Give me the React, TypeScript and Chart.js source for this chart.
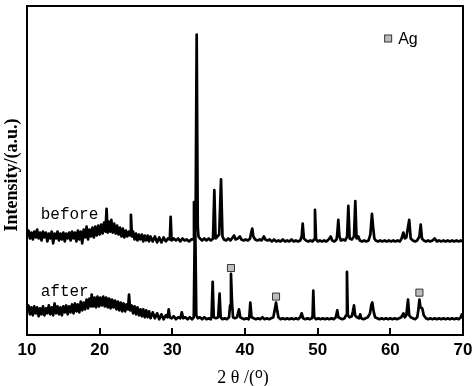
import React, { useEffect, useRef } from 'react';
import { Chart, registerables } from 'chart.js';

Chart.register(...registerables);

// 2θ tick labels
const xTickValues: number[] = [10, 20, 30, 40, 50, 60, 70];

// XRD pattern "before" : [2θ (deg), intensity (a.u.)]
const beforePattern: [number, number][] = [
  [10.0,101],[10.2,106],[10.4,98],[10.6,104],[10.8,97],[11.0,105],[11.2,99],[11.4,107],[11.6,98],[11.8,104],
  [12.0,96],[12.2,105],[12.4,99],[12.6,104],[12.8,95],[13.0,103],[13.2,98],[13.4,105],[13.6,93],[13.8,103],
  [14.0,98],[14.2,105],[14.4,96],[14.6,103],[14.8,97],[15.0,104],[15.2,95],[15.4,103],[15.6,98],[15.8,104],
  [16.0,96],[16.2,105],[16.4,98],[16.6,104],[16.8,95],[17.0,106],[17.2,97],[17.4,105],[17.6,93],[17.8,107],
  [18.0,99],[18.2,110],[18.4,97],[18.6,107],[18.8,100],[19.0,109],[19.2,99],[19.4,110],[19.6,101],[19.8,111],
  [20.0,102],[20.2,112],[20.4,103],[20.6,114],[20.8,105],[20.95,128],[21.1,104],[21.3,115],[21.45,105],[21.6,117],
  [21.8,104],[22.0,113],[22.2,103],[22.4,111],[22.6,102],[22.8,109],[23.0,100],[23.2,108],[23.4,99],[23.6,106],
  [23.8,100],[24.0,105],[24.2,101],[24.3,122],[24.45,100],[24.6,105],[24.8,97],[25.0,103],[25.2,96],[25.4,102],
  [25.6,97],[25.8,102],[26.0,95],[26.2,101],[26.4,96],[26.6,101],[26.8,95],[27.0,100],[27.3,95],[27.6,100],
  [27.9,94],[28.2,99],[28.5,94],[28.8,99],[29.1,95],[29.4,98],[29.65,97],[29.77,120],[29.9,96],[30.2,98],
  [30.5,96],[30.8,98],[31.1,95],[31.4,98],[31.7,96],[32.0,97],[32.3,95],[32.6,97],[32.85,97],[32.98,135],
  [33.1,104],[33.2,110],[33.35,305],[33.5,110],[33.6,100],[33.8,98],[34.1,96],[34.4,98],[34.7,96],[35.0,98],
  [35.3,96],[35.6,98],[35.78,147],[35.95,98],[36.2,100],[36.45,102],[36.7,158],[36.9,100],[37.1,97],[37.4,96],
  [37.7,98],[38.0,96],[38.3,99],[38.5,101],[38.7,97],[39.0,98],[39.3,100],[39.5,97],[39.8,96],[40.1,97],
  [40.4,96],[40.7,98],[40.85,104],[41.0,108],[41.15,100],[41.4,97],[41.7,96],[42.0,97],[42.3,96],[42.6,100],
  [42.8,97],[43.1,96],[43.4,97],[43.7,95],[44.0,97],[44.3,95],[44.6,96],[44.9,95],[45.2,97],[45.5,95],
  [45.8,96],[46.1,95],[46.4,97],[46.7,95],[47.0,96],[47.3,95],[47.6,96],[47.8,100],[47.94,113],[48.1,98],
  [48.4,96],[48.7,95],[49.0,96],[49.3,95],[49.5,97],[49.63,127],[49.78,97],[50.0,95],[50.3,96],[50.6,95],
  [50.9,96],[51.2,95],[51.5,97],[51.8,100],[52.0,96],[52.3,95],[52.6,97],[52.7,103],[52.84,117],[53.0,100],
  [53.2,96],[53.5,97],[53.8,96],[54.05,100],[54.22,131],[54.4,98],[54.7,97],[55.0,100],[55.18,136],[55.35,98],
  [55.6,100],[55.8,96],[56.1,95],[56.4,96],[56.7,95],[57.0,96],[57.25,102],[57.47,123],[57.65,108],[57.8,98],
  [58.0,96],[58.3,95],[58.6,96],[58.9,95],[59.2,96],[59.5,95],[59.8,96],[60.1,95],[60.4,96],[60.7,95],
  [61.0,96],[61.3,95],[61.55,98],[61.79,104],[62.0,98],[62.2,99],[62.6,117],[62.8,98],[63.1,96],[63.4,95],
  [63.7,96],[64.0,100],[64.18,112],[64.35,98],[64.6,96],[64.9,95],[65.2,96],[65.5,95],[65.8,96],[66.1,98],
  [66.4,95],[66.7,96],[67.0,95],[67.3,96],[67.6,95],[67.9,96],[68.2,95],[68.5,96],[68.8,95],[69.1,96],
  [69.4,95],[69.7,96],[70.0,95],
];

// XRD pattern "after" : [2θ (deg), intensity (a.u.)]
const afterPattern: [number, number][] = [
  [10.0,25],[10.2,30],[10.4,21],[10.6,28],[10.8,20],[11.0,29],[11.2,22],[11.4,28],[11.6,19],[11.8,27],
  [12.0,21],[12.2,29],[12.4,20],[12.6,27],[12.8,22],[13.0,30],[13.2,21],[13.4,28],[13.6,20],[13.8,32],
  [14.0,22],[14.2,29],[14.4,21],[14.6,28],[14.8,20],[15.0,29],[15.2,23],[15.4,30],[15.6,21],[15.8,29],
  [16.0,23],[16.2,31],[16.4,22],[16.6,32],[16.8,24],[17.0,31],[17.2,23],[17.4,34],[17.6,25],[17.8,33],
  [18.0,26],[18.2,36],[18.4,27],[18.6,37],[18.8,29],[18.9,41],[19.1,29],[19.3,38],[19.5,28],[19.7,39],
  [19.9,29],[20.1,38],[20.3,30],[20.5,39],[20.7,29],[20.9,38],[21.1,28],[21.3,37],[21.5,27],[21.7,36],
  [21.9,28],[22.1,35],[22.3,26],[22.5,34],[22.7,25],[22.9,33],[23.1,24],[23.3,32],[23.5,24],[23.7,31],
  [23.9,26],[24.04,41],[24.2,25],[24.4,30],[24.6,22],[24.8,29],[25.0,21],[25.2,28],[25.4,20],[25.6,26],
  [25.8,19],[26.0,26],[26.2,18],[26.4,25],[26.6,18],[26.8,24],[27.0,17],[27.3,23],[27.6,17],[27.9,22],
  [28.2,16],[28.5,21],[28.8,16],[29.1,20],[29.35,18],[29.5,26],[29.65,18],[29.9,17],[30.2,19],[30.5,16],
  [30.8,18],[31.1,17],[31.3,23],[31.5,17],[31.8,18],[32.1,16],[32.4,18],[32.7,16],[32.95,18],[33.12,130],
  [33.3,20],[33.5,17],[33.8,18],[34.1,16],[34.4,18],[34.7,16],[35.0,17],[35.3,16],[35.4,19],[35.55,54],
  [35.7,18],[36.0,17],[36.3,18],[36.5,42],[36.65,18],[36.9,16],[37.2,17],[37.5,16],[37.8,18],[37.95,30],
  [38.07,62],[38.2,35],[38.35,18],[38.6,17],[38.9,18],[39.17,26],[39.35,18],[39.6,17],[39.9,16],[40.2,17],
  [40.5,16],[40.6,19],[40.73,33],[40.9,18],[41.2,17],[41.5,16],[41.8,17],[42.1,16],[42.4,18],[42.7,16],
  [43.0,17],[43.3,16],[43.6,17],[43.9,18],[44.1,26],[44.27,33],[44.45,24],[44.6,18],[44.9,16],[45.2,17],
  [45.5,16],[45.8,17],[46.1,16],[46.4,17],[46.7,16],[47.0,17],[47.3,16],[47.6,18],[47.8,22],[48.0,17],
  [48.3,16],[48.6,17],[48.9,16],[49.2,17],[49.3,19],[49.4,45],[49.52,18],[49.8,16],[50.1,17],[50.4,16],
  [50.7,17],[51.0,16],[51.3,17],[51.6,16],[51.9,17],[52.2,16],[52.5,18],[52.7,25],[52.85,18],[53.1,17],
  [53.4,16],[53.7,17],[53.9,20],[54.03,64],[54.15,20],[54.4,18],[54.7,19],[54.85,24],[55.0,30],[55.15,20],
  [55.4,18],[55.7,17],[55.85,21],[56.0,17],[56.3,16],[56.6,17],[56.9,18],[57.2,22],[57.4,31],[57.52,33],
  [57.7,24],[57.9,18],[58.2,17],[58.5,16],[58.8,17],[59.1,16],[59.4,17],[59.7,16],[60.0,17],[60.3,16],
  [60.6,17],[60.9,16],[61.2,17],[61.5,18],[61.8,22],[62.0,18],[62.2,20],[62.43,36],[62.6,20],[62.8,18],
  [63.1,17],[63.4,16],[63.7,18],[63.85,25],[64.0,36],[64.15,28],[64.4,27],[64.6,20],[64.9,17],[65.2,16],
  [65.5,17],[65.8,16],[66.1,17],[66.4,16],[66.7,17],[67.0,16],[67.3,17],[67.6,16],[67.9,17],[68.2,16],
  [68.5,17],[68.8,16],[69.1,17],[69.4,16],[69.7,18],[69.85,21],[70.0,17],
];

// Ag reflection markers (2θ, intensity)
const agMarkers: [number, number][] = [
  [38.07, 68],
  [44.27, 39],
  [64.0, 43],
];

const seriesLabels = ['before', 'after'];
const seriesLabelAnchors: [number, number][] = [
  [12.3, 118],
  [12.3, 40],
];
const legendLabel = 'Ag';
const legendAnchor: [number, number] = [59.7, 301];

const xTitleMain = '2 θ /(';
const xTitleSup = 'o';
const xTitleEnd = ')';
const yTitle = 'Intensity/(a.u.)';

const toXY = (arr: [number, number][]) => arr.map(([x, y]) => ({ x, y }));

const decorPlugin = {
  id: 'decor',
  afterDatasetsDraw(chart: any) {
    const { ctx, chartArea, scales } = chart;
    const xs = scales.x;
    const ys = scales.y;
    ctx.save();
    // frame
    ctx.strokeStyle = '#000';
    ctx.lineWidth = 2;
    ctx.strokeRect(chartArea.left, chartArea.top, chartArea.right - chartArea.left, chartArea.bottom - chartArea.top);
    // inner ticks
    ctx.beginPath();
    xTickValues.forEach((v) => {
      const px = Math.round(xs.getPixelForValue(v));
      ctx.moveTo(px, chartArea.bottom);
      ctx.lineTo(px, chartArea.bottom - 7);
    });
    ctx.stroke();
    // series labels
    ctx.fillStyle = '#000';
    ctx.font = '16px "Liberation Mono"';
    ctx.textAlign = 'left';
    ctx.textBaseline = 'alphabetic';
    seriesLabels.forEach((t, i) => {
      const [lx, ly] = seriesLabelAnchors[i];
      ctx.fillText(t, xs.getPixelForValue(lx) - 3, ys.getPixelForValue(ly));
    });
    // legend
    const lx = xs.getPixelForValue(legendAnchor[0]);
    const ly = ys.getPixelForValue(legendAnchor[1]);
    ctx.fillStyle = '#bdbdbd';
    ctx.fillRect(lx - 3.5, ly - 3.5, 7, 7);
    ctx.lineWidth = 1;
    ctx.strokeStyle = '#333';
    ctx.strokeRect(lx - 3.5, ly - 3.5, 7, 7);
    ctx.fillStyle = '#000';
    ctx.font = '16px "Liberation Sans"';
    ctx.textBaseline = 'middle';
    ctx.fillText(legendLabel, lx + 10, ly + 1);
    // x title
    ctx.font = '18px "Liberation Serif"';
    ctx.textBaseline = 'alphabetic';
    const supFont = '14px "Liberation Sans"';
    const w1 = ctx.measureText(xTitleMain).width;
    const w3 = ctx.measureText(xTitleEnd).width;
    ctx.font = supFont;
    const w2 = ctx.measureText(xTitleSup).width;
    const total = w1 + w2 + w3;
    const cx = (chartArea.left + chartArea.right) / 2 - 2;
    let sx = cx - total / 2;
    const base = 383;
    ctx.font = '18px "Liberation Serif"';
    ctx.fillText(xTitleMain, sx, base);
    sx += w1;
    ctx.font = supFont;
    ctx.fillText(xTitleSup, sx, base - 5);
    sx += w2;
    ctx.font = '18px "Liberation Serif"';
    ctx.fillText(xTitleEnd, sx, base);
    // y title
    ctx.translate(12, 175);
    ctx.rotate(-Math.PI / 2);
    ctx.font = 'bold 18px "Liberation Serif"';
    ctx.textAlign = 'center';
    ctx.textBaseline = 'middle';
    ctx.fillText(yTitle, 0, 0);
    ctx.restore();
  },
};

export default function App() {
  const ref = useRef<HTMLCanvasElement>(null);
  useEffect(() => {
    if (!ref.current) return;
    const lineStyle = {
      borderColor: '#000',
      borderWidth: 2.7,
      borderJoinStyle: 'round',
      borderCapStyle: 'round',
      pointRadius: 0,
      tension: 0,
    };
    const chart = new Chart(ref.current, {
      type: 'line',
      data: {
        datasets: [
          { label: seriesLabels[0], data: toXY(beforePattern), ...lineStyle },
          { label: seriesLabels[1], data: toXY(afterPattern), ...lineStyle },
          {
            label: legendLabel,
            type: 'scatter',
            data: toXY(agMarkers),
            showLine: false,
            pointStyle: 'rect',
            pointRadius: 5,
            backgroundColor: '#bdbdbd',
            borderColor: '#333',
            borderWidth: 1,
          } as any,
        ],
      },
      options: {
        animation: false,
        responsive: true,
        maintainAspectRatio: false,
        layout: { padding: { left: 27, top: 1, right: 11, bottom: 0 } },
        plugins: { legend: { display: false }, tooltip: { enabled: false } },
        scales: {
          x: {
            type: 'linear',
            min: 10,
            max: 70,
            afterBuildTicks: (s: any) => {
              s.ticks = xTickValues.map((v) => ({ value: v }));
            },
            afterFit: (s: any) => {
              s.height = 51;
              s.paddingLeft = 0;
              s.paddingRight = 0;
            },
            grid: { display: false, drawTicks: false },
            border: { display: false },
            ticks: {
              color: '#000',
              padding: 5,
              maxRotation: 0,
              font: { family: '"Liberation Sans"', weight: 'bold', size: 17 },
            },
          },
          y: {
            type: 'linear',
            display: false,
            min: 0,
            max: 334,
          },
        },
      },
      plugins: [decorPlugin],
    } as any);
    return () => chart.destroy();
  }, []);
  return (
    <div style={{ position: 'fixed', left: 0, top: 0, width: 474, height: 386, background: '#fff' }}>
      <canvas ref={ref} style={{ display: 'block' }} />
    </div>
  );
}
